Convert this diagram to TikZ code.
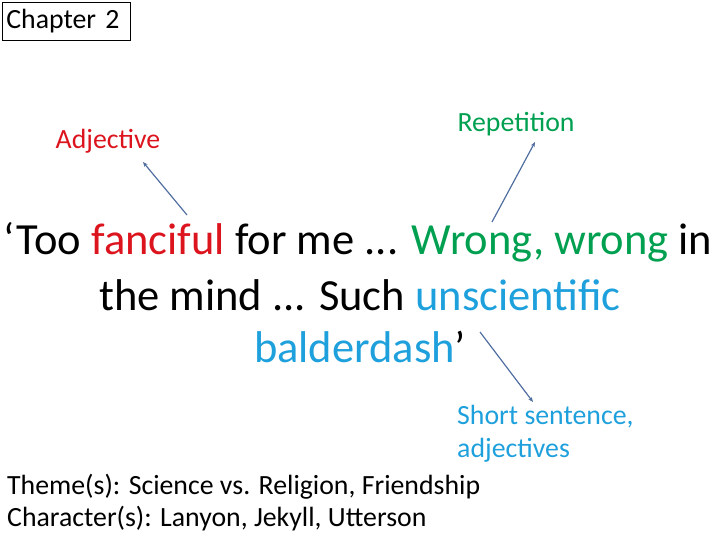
\documentclass[tikz,border=0pt]{standalone}
\usepackage{fontspec}
\usetikzlibrary{arrows.meta}
\setmainfont{Carlito}
\definecolor{cred}{RGB}{220,20,30}
\definecolor{cgreen}{RGB}{0,160,80}
\definecolor{cblue}{RGB}{30,160,220}
\definecolor{cline}{RGB}{80,110,160}
\begin{document}
\begin{tikzpicture}[x=1pt,y=-1pt,
  lbl/.style={inner sep=0pt,font=\fontsize{27.8}{32}\selectfont},
  big/.style={inner sep=0pt,font=\fontsize{44.5}{52}\selectfont},
  conn/.style={draw=cline,line width=1.2pt,-{Stealth[length=5pt,width=4pt]}}]
\useasboundingbox (0,0) rectangle (720,540);
\node[lbl,draw,line width=0.8pt,inner sep=4pt,minimum height=38pt,text width=120pt,anchor=north west] (ch) at (2,2) {Chapter 2};
\node[lbl,text=cred] (adj) at (108,141) {Adjective};
\node[lbl,text=cgreen] (rep) at (516,124) {Repetition};
\node[big] (l1) at (358,242) {‘Too \textcolor{cred}{fanciful} for me ... \textcolor{cgreen}{Wrong, wrong} in};
\node[big] (l2) at (360,295) {the mind ... Such \textcolor{cblue}{unscientific}};
\node[big] (l3) at (360,347) {\textcolor{cblue}{balderdash}’};
\node[lbl,text=cblue,anchor=west] (ss) at (457,417) {Short sentence,};
\node[lbl,text=cblue,anchor=west] (ad2) at (457,450) {adjectives};
\node[lbl,anchor=west] (th) at (7,487) {Theme(s): Science vs. Religion, Friendship};
\node[lbl,anchor=west] (cr) at (7,519) {Character(s): Lanyon, Jekyll, Utterson};
\coordinate (a1) at (187,215); \coordinate (a2) at (143,162);
\coordinate (b1) at (492,222); \coordinate (b2) at (535,142);
\coordinate (c1) at (480,332); \coordinate (c2) at (533,402);
\draw[conn] (a1) -- (a2);
\draw[conn] (b1) -- (b2);
\draw[conn] (c1) -- (c2);
\end{tikzpicture}
\end{document}
